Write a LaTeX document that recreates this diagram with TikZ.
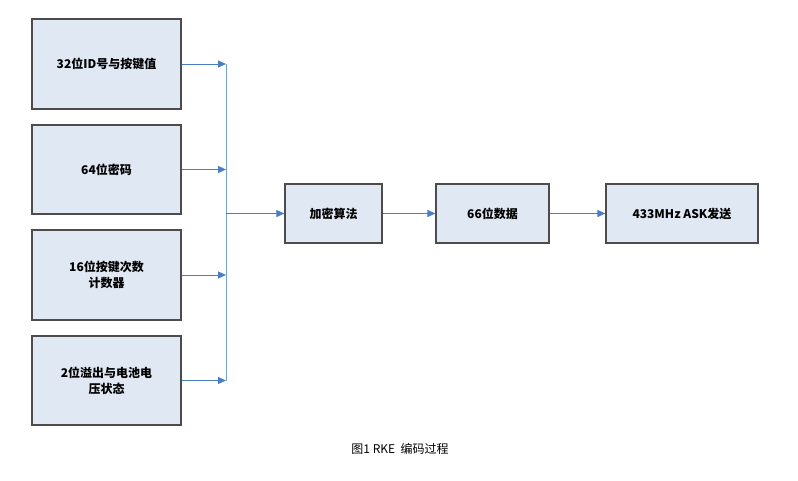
\documentclass[tikz,border=0pt]{standalone}
\usepackage{fontspec}
\setmainfont{Noto Sans CJK SC}
\usetikzlibrary{arrows.meta}
\begin{document}
\begin{tikzpicture}[x=1pt,y=-1pt,
  box/.style={draw=black!70,line width=1.2pt,fill={rgb,255:red,224;green,232;blue,244},inner sep=0pt,align=center,font=\fontsize{12}{16}\selectfont\bfseries},
  arr/.style={draw={rgb,255:red,74;green,126;blue,196},line width=1pt,-{Triangle[length=8pt,width=7pt]}},
  ln/.style={draw={rgb,255:red,120;green,160;blue,215},line width=1pt}]
\path[fill=white] (0,0) rectangle (798,480);
\useasboundingbox (0,0) rectangle (798,480);
\node[box,minimum width=149pt,minimum height=90pt] (a) at (106.5,64) {32位ID号与按键值};
\node[box,minimum width=149pt,minimum height=89pt] (b) at (106.5,169.5) {64位密码};
\node[box,minimum width=149pt,minimum height=90pt] (c) at (106.5,275) {16位按键次数\\计数器};
\node[box,minimum width=149pt,minimum height=89pt] (d) at (106.5,380.5) {2位溢出与电池电\\压状态};
\node[box,minimum width=97pt,minimum height=59pt] (e) at (333.5,213.5) {加密算法};
\node[box,minimum width=113pt,minimum height=59pt] (f) at (492.5,213.5) {66位数据};
\node[box,minimum width=152pt,minimum height=59pt] (g) at (682,213.5) {433MHz ASK发送};
\coordinate (t) at (226,64);
\coordinate (u) at (226,380.5);
\coordinate (m) at (226,213.5);
\draw[ln] (t) -- (u);
\draw[arr] (a.east) -- (t);
\draw[arr] (b.east) -- (226,169.5);
\draw[arr] (c.east) -- (226,275);
\draw[arr] (d.east) -- (u);
\draw[arr] (m) -- (e.west);
\draw[arr] (e.east) -- (f.west);
\draw[arr] (f.east) -- (g.west);
\node[font=\fontsize{12}{14}\selectfont] (cap) at (400,449) {图1 RKE\ \ 编码过程};
\end{tikzpicture}
\end{document}
